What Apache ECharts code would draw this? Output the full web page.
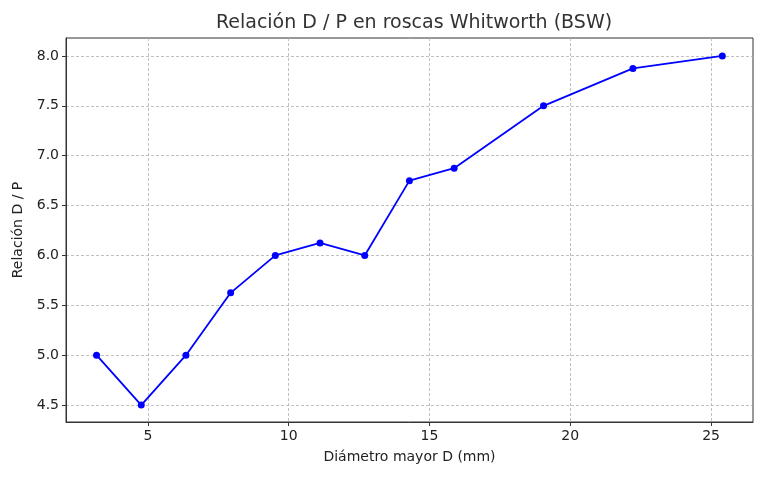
<!DOCTYPE html>
<html><head><meta charset="utf-8">
<script src="https://cdn.jsdelivr.net/npm/echarts@6/dist/echarts.min.js"></script>
<style>html,body{margin:0;padding:0;background:#fff}#main{width:768px;height:480px}</style>
</head><body><div id="main"></div>
<script>
// diámetro mayor (mm) y relación D/P
const diametros = [3.175, 4.7625, 6.35, 7.9375, 9.525, 11.1125, 12.7, 14.2875, 15.875, 19.05, 22.225, 25.4];
const relaciones = [5.0, 4.5, 5.0, 5.625, 6.0, 6.125, 6.0, 6.75, 6.875, 7.5, 7.875, 8.0];
const xTicks = [5, 10, 15, 20, 25];
const yTicks = [4.5, 5.0, 5.5, 6.0, 6.5, 7.0, 7.5, 8.0];

const font = 'DejaVu Sans';
const grid = {show: true, color: '#b0b0b0', type: [3, 2], width: 0.8};

var myChart = echarts.init(document.getElementById('main'));
var option = {
  textStyle: {fontFamily: font},
  title: {text: 'Relación D / P en roscas Whitworth (BSW)', left: 409, top: 9, textAlign: 'center',
    textStyle: {fontFamily: font, fontSize: 19, fontWeight: 'normal', color: '#333'}},
  grid: {left: 66, right: 15, top: 38, bottom: 58, show: true, borderColor: '#333', borderWidth: 1},
  xAxis: {
    type: 'value', min: 2.09, max: 26.49,
    name: 'Diámetro mayor D (mm)', nameLocation: 'middle', nameGap: 28,
    nameTextStyle: {fontSize: 14, color: '#222'},
    axisLine: {show: true, lineStyle: {color: '#333'}},
    axisTick: {show: true, customValues: xTicks, length: 4, inside: false, lineStyle: {color: '#333'}},
    axisLabel: {customValues: xTicks, fontSize: 14, color: '#222', margin: 7},
    splitLine: {show: true, lineStyle: grid}
  },
  yAxis: {
    type: 'value', min: 4.33, max: 8.18,
    name: 'Relación D / P', nameLocation: 'middle', nameGap: 38,
    nameTextStyle: {fontSize: 14, color: '#222'},
    axisLine: {show: true, lineStyle: {color: '#333'}},
    axisTick: {show: true, customValues: yTicks, length: 4, lineStyle: {color: '#333'}},
    axisLabel: {customValues: yTicks, fontSize: 14, color: '#222', margin: 7,
      formatter: v => v.toFixed(1)},
    splitLine: {show: true, lineStyle: grid}
  },
  series: [{
    type: 'line', data: diametros.map((d, i) => [d, relaciones[i]]),
    symbol: 'circle', symbolSize: 7,
    lineStyle: {color: '#0000ff', width: 1.8},
    itemStyle: {color: '#0000ff'}
  }]
};
myChart.setOption(option);
</script></body></html>
